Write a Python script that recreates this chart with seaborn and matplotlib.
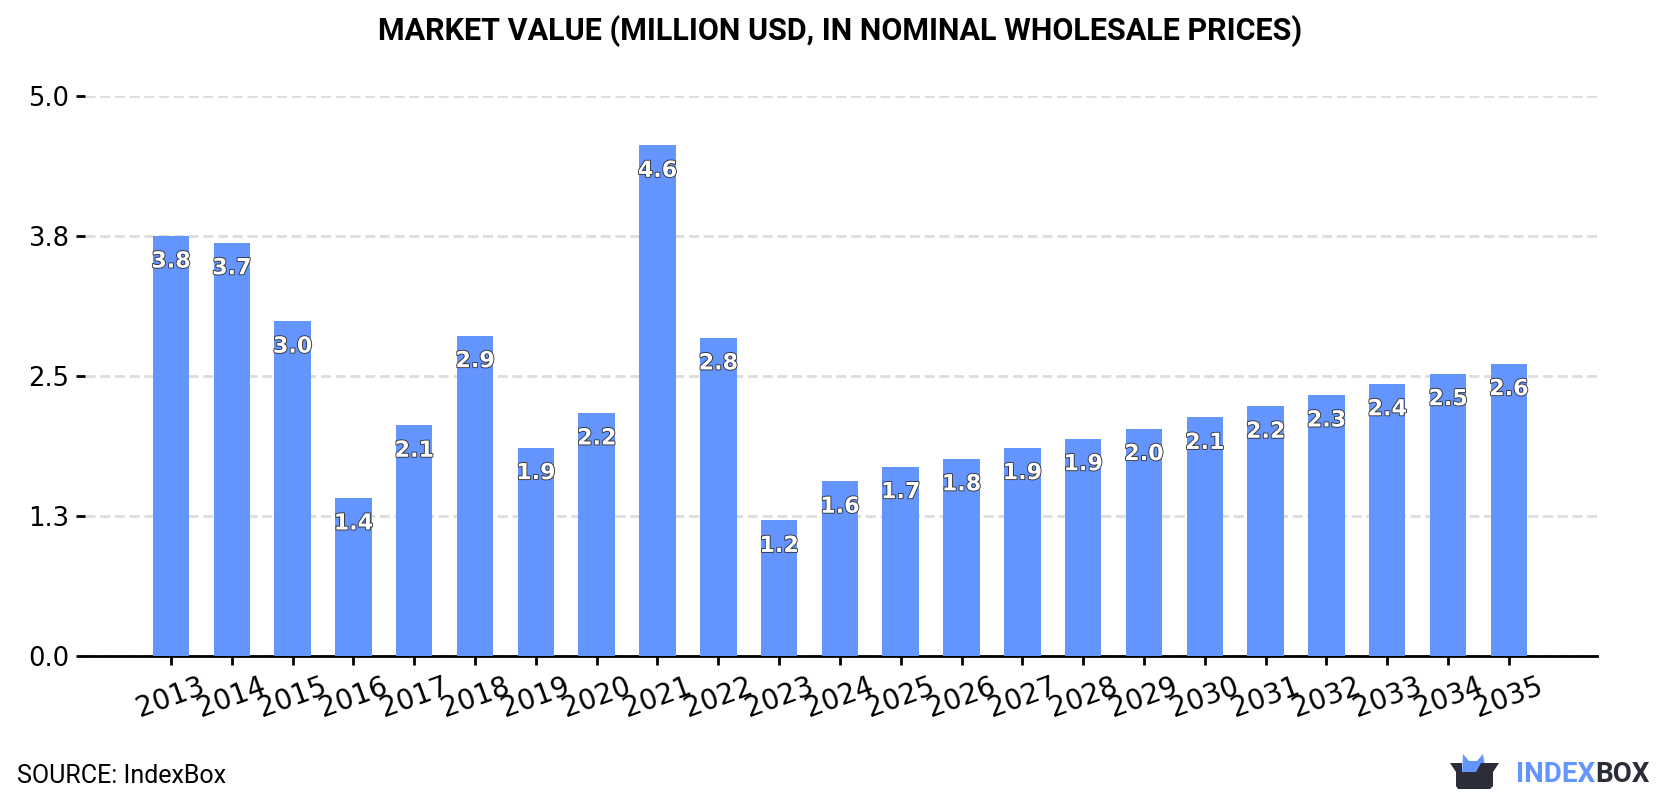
import matplotlib
matplotlib.use("Agg")
import matplotlib.pyplot as plt
import matplotlib.patheffects as pe
from matplotlib.patches import Polygon
import pandas as pd
import seaborn as sns

years = list(range(2013, 2036))
values = [3.75, 3.69, 2.99, 1.41, 2.06, 2.86, 1.86, 2.17, 4.56, 2.84, 1.21, 1.56,
          1.69, 1.76, 1.86, 1.94, 2.03, 2.13, 2.23, 2.33, 2.43, 2.52, 2.61]
y_ticks = [0.0, 1.25, 2.5, 3.75, 5.0]
y_tick_labels = ["0.0", "1.3", "2.5", "3.8", "5.0"]

BAR = "#6495ff"
DARK = "#2b2d38"
W, H = 1680, 800

sns.set_theme(style="white")
plt.rcParams["font.family"] = ["DejaVu Sans"]

fig = plt.figure(figsize=(W / 100, H / 100), dpi=100, facecolor="white")
ax = fig.add_axes([85 / W, 1 - 655.8 / H, (1597 - 85) / W, (655.8 - 96.0) / H])

df = pd.DataFrame({"year": years, "value": values})
sns.barplot(data=df, x="year", y="value", color=BAR, saturation=1, width=0.6,
            linewidth=0, ax=ax, zorder=3)

ax.set_xlim(-1.414, 23.45)
ax.set_ylim(0, 5)
ax.set_xlabel("")
ax.set_ylabel("")
ax.set_yticks(y_ticks, y_tick_labels)
ax.yaxis.grid(True, color="#dddddd", linestyle=(0, (3.6, 1.7)), linewidth=2, zorder=0)
ax.xaxis.grid(False)
ax.set_axisbelow(True)

sns.despine(ax=ax, left=True, top=True, right=True)
ax.spines["bottom"].set_linewidth(2)
ax.spines["bottom"].set_color("black")
ax.tick_params(axis="both", which="major", colors="black", width=2, length=6.5, pad=5,
               left=True, bottom=True)
ax.tick_params(axis="x", labelsize=20)
ax.tick_params(axis="y", labelsize=18.6)
plt.setp(ax.get_xticklabels(), rotation=20, ha="center", rotation_mode="default")

# value labels sit just below the top of each bar
for i, v in enumerate(values):
    ax.annotate(f"{v:.1f}", (i, v), xytext=(0, -17), textcoords="offset points",
                ha="center", va="center_baseline", color="white", fontsize=16, fontweight="bold",
                zorder=5, path_effects=[pe.withStroke(linewidth=1.3, foreground="#333333")])

fig.text(0.5, 1 - 31 / H, "MARKET VALUE (MILLION USD, IN NOMINAL WHOLESALE PRICES)",
         ha="center", va="center", fontsize=22, fontweight="bold", family="Roboto", color="black")
fig.text(17 / W, 1 - 776 / H, "SOURCE: IndexBox", ha="left", va="center",
         fontsize=18, family="Roboto", color="black")

# brand mark: an open box with blue ears
logo = fig.add_axes([1445 / W, 1 - 790 / H, 60 / W, 40 / H])
logo.set_xlim(1445, 1505)
logo.set_ylim(790, 750)
logo.axis("off")
logo.add_patch(Polygon([(1462, 773), (1463, 754), (1469, 761), (1477, 761), (1483, 754), (1486, 773), (1478, 773), (1474, 780), (1462, 773)],
                       closed=True, facecolor=BAR, edgecolor="none"))
logo.add_patch(Polygon([(1450, 763), (1462, 763), (1462, 772), (1476, 772), (1481, 763), (1499, 763), (1493, 772), (1493, 786),
                        (1490, 789), (1458, 789), (1456, 786), (1456, 772)], closed=True, facecolor=DARK, edgecolor="none"))

t1 = fig.text(1516 / W, 1 - 775 / H, "INDEX", ha="left", va="center", fontsize=20,
              fontweight="bold", family="Roboto", color=BAR)
fig.canvas.draw()
bb = t1.get_window_extent()
fig.text(bb.x1 / W, 1 - 775 / H, "BOX", ha="left", va="center", fontsize=20,
         fontweight="bold", family="Roboto", color=DARK)

fig.savefig("out.png", dpi=100, facecolor="white")
